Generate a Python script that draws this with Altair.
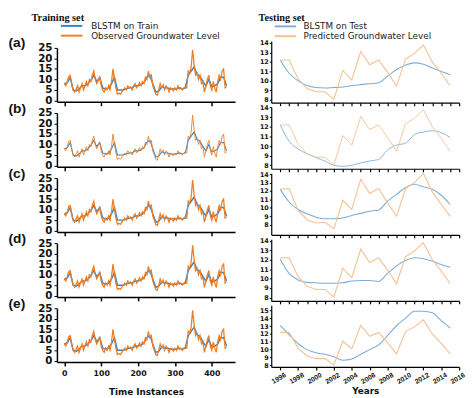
import altair as alt
import pandas as pd

# ---------------- Training set (left column) ----------------
train_names = ["BLSTM on Train", "Observed Groundwater Level"]
obs_step = 4
observed = [8, 7, 9, 11.5, 12, 8, 5, 4, 5.5, 7, 4, 6, 8, 5, 7, 9, 7, 10, 9, 12,
            14, 10, 8, 9.5, 11, 7, 5, 4, 6, 5, 7, 5, 9, 15, 10, 6, 3, 3.5, 3, 4,
            5, 6, 5, 7, 6, 6.5, 5, 7, 8, 6, 7, 8.5, 7, 9, 8, 11, 10, 14, 11, 12,
            7, 5, 3, 2.5, 5, 8, 6, 7.5, 5, 7, 6, 4, 6, 5.5, 4.5, 6, 5, 7, 5.5, 6,
            5, 6, 6.5, 6, 14, 13, 16, 24, 17, 12, 13, 10, 12, 8, 9, 4, 7, 10, 12, 7,
            5, 9, 6, 4, 9, 12, 10, 14, 15, 6, 6.5]
blue_step = 8
blstm_train = [8, 8.5, 11, 5, 4.5, 5.5, 7, 7, 8, 9.5, 12, 9, 11, 6, 5.5, 6, 8, 11, 5, 5,
               5, 5.5, 6, 6, 7, 7, 7.5, 8.5, 11, 12, 8, 4, 4.5, 6.5, 6, 6, 5.5, 5.5, 5.5, 6,
               5.5, 6, 12, 14, 16, 12.5, 11.5, 9, 7, 10, 6.5, 7, 8, 11, 11, 7]
panel_labels = ["(a)", "(b)", "(c)", "(d)", "(e)"]
x_ticks_left = [0, 100, 200, 300, 400]
y_ticks_left = [0, 5, 10, 15, 20, 25]

# ---------------- Testing set (right column) ----------------
test_names = ["BLSTM on Test", "Predicted Groundwater Level"]
years = [1996, 1997, 1998, 1999, 2000, 2001, 2002, 2003, 2004, 2005,
         2006, 2007, 2008, 2009, 2010, 2011, 2012, 2013, 2014, 2015]
predicted = [12.2, 12.2, 10.2, 9.2, 8.85, 8.85, 8.05, 11.1, 10.1, 13.1,
             11.7, 12.2, 10.9, 9.45, 12.3, 12.9, 13.8, 12.0, 10.8, 9.45]
predicted_c = [12.2, 12.3, 9.7, 8.6, 8.2, 8.3, 7.5, 10.9, 9.8, 13.4,
               11.7, 12.3, 10.6, 9.0, 12.3, 13.0, 14.1, 11.9, 10.4, 9.0]
blstm_test = {
    "a": [12.2, 10.8, 10.0, 9.5, 9.3, 9.25, 9.3, 9.35, 9.5, 9.6,
          9.7, 9.8, 10.5, 11.2, 11.65, 11.9, 11.75, 11.35, 11.0, 10.65],
    "b": [12.2, 10.5, 9.7, 9.2, 8.8, 8.45, 8.0, 7.9, 8.0, 8.25,
          8.45, 8.6, 9.6, 10.1, 10.3, 11.2, 11.45, 11.6, 11.4, 10.9],
    "c": [12.2, 10.7, 9.8, 9.3, 8.9, 8.7, 8.7, 8.8, 9.1, 9.35,
          9.6, 9.75, 10.8, 11.6, 12.4, 12.8, 12.5, 12.2, 11.5, 10.4],
    "d": [12.05, 10.55, 9.86, 9.6, 9.55, 9.5, 9.5, 9.55, 9.75, 9.8,
          9.8, 9.7, 10.55, 11.35, 11.9, 12.2, 12.1, 11.85, 11.5, 11.2],
    "e": [13.1, 11.9, 10.75, 10.0, 9.6, 9.4, 9.1, 8.65, 8.8, 9.4,
          10.0, 10.6, 11.8, 13.05, 14.0, 14.9, 14.9, 14.7, 13.7, 12.75],
}
right_domains = {"a": [7.69, 14.2], "b": [7.64, 14.05], "c": [6.8, 14.12],
                 "d": [7.64, 14.16], "e": [7.79, 15.66]}
right_ticks = {"a": list(range(8, 15)), "b": list(range(8, 15)), "c": list(range(8, 15)),
               "d": list(range(8, 15)), "e": list(range(8, 16))}
year_ticks_all = list(range(1996, 2017))
year_ticks_e = list(range(1996, 2017, 2))

LEFT_W, LEFT_H = 182, 55
RIGHT_W, RIGHT_H = 192, 63
HEAD_H = 9
FONT = "DejaVu Sans"

left_color = alt.Color(
    "series:N",
    scale=alt.Scale(domain=train_names, range=["#2f86cf", "#f07d21"]),
    legend=alt.Legend(title=None, orient="none", legendX=10, legendY=-7,
                      symbolType="M-2.75,0H2.75", symbolSize=64, symbolStrokeWidth=2,
                      labelFont=FONT, labelFontSize=9, labelColor="#222",
                      labelOffset=15, rowPadding=0, padding=0),
)
right_color = alt.Color(
    "series:N",
    scale=alt.Scale(domain=test_names, range=["#7eaed8", "#f5c093"]),
    legend=alt.Legend(title=None, orient="none", legendX=10, legendY=-6,
                      symbolType="M-3.14,0H3.14", symbolSize=49, symbolStrokeWidth=2,
                      labelFont=FONT, labelFontSize=9, labelColor="#222",
                      labelOffset=14, rowPadding=-1, padding=0),
)


def spacer(w):
    return alt.Chart(pd.DataFrame({"v": [0]})).mark_point(opacity=0).properties(
        width=w, height=HEAD_H)


def left_panel(i):
    last = i == 4
    sw = 0.9 if i == 1 else 1.3
    obs_df = pd.DataFrame({"t": [k * obs_step for k in range(len(observed))],
                           "v": observed, "series": train_names[1]})
    blue_df = pd.DataFrame({"t": [k * blue_step for k in range(len(blstm_train))],
                            "v": blstm_train, "series": train_names[0]})
    xaxis = dict(values=x_ticks_left, labels=last, tickSize=4, tickWidth=1.5,
                 domainWidth=1.5, labelFont=FONT, labelFontSize=8, labelFontWeight="bold",
                 labelPadding=4, grid=False)
    if last:
        xaxis.update(title="Time Instances", titleFont=FONT, titleFontSize=9,
                     titleFontWeight="bold", titlePadding=10)
    else:
        xaxis.update(title="")
    x = alt.X("t:Q", scale=alt.Scale(domain=[-20, 463], nice=False, zero=False),
              axis=alt.Axis(**xaxis))
    y = alt.Y("v:Q", scale=alt.Scale(domain=[-0.6, 25], nice=False, zero=False),
              axis=alt.Axis(values=y_ticks_left, title=panel_labels[i], titleAngle=0,
                            titleX=-50, titleY=-5, titleAlign="left",
                            titleBaseline="middle", titleFont="Liberation Sans",
                            titleFontSize=14, titleFontWeight="bold", titleColor="#111",
                            labelFont=FONT, labelFontSize=10.5, labelFontWeight="bold",
                            tickSize=3, labelPadding=2, domainWidth=1.5, grid=False))
    blue = alt.Chart(blue_df).mark_line(strokeWidth=sw + 0.2).encode(x=x, y=y, color=left_color)
    obs = alt.Chart(obs_df).mark_line(strokeWidth=sw).encode(x=x, y=y, color=left_color)
    return alt.layer(blue, obs).properties(width=LEFT_W, height=LEFT_H)


def right_panel(i):
    key = "abcde"[i]
    last = i == 4
    sw = 0.9 if i == 1 else 1.1
    pred = predicted_c if key == "c" else predicted
    pred_df = pd.DataFrame({"year": years, "v": pred, "series": test_names[1]})
    blue_df = pd.DataFrame({"year": years, "v": blstm_test[key], "series": test_names[0]})
    xaxis = dict(tickSize=3, tickWidth=1.2, domainWidth=1.2, grid=False)
    if last:
        xaxis.update(values=year_ticks_e, labels=True, format="d", labelAngle=-30,
                     labelAlign="right", labelBaseline="top", labelPadding=1,
                     labelOffset=3, labelFont="Liberation Sans", labelFontSize=7,
                     labelFontWeight="bold",
                     labelOverlap=False, labelBound=False, labelFlush=False,
                     title="Years", titleFont=FONT, titleFontSize=9,
                     titleFontWeight="bold", titlePadding=2)
    else:
        xaxis.update(values=year_ticks_all, labels=False, title="")
    x = alt.X("year:Q", scale=alt.Scale(domain=[1995, 2016], nice=False, zero=False),
              axis=alt.Axis(**xaxis))
    y = alt.Y("v:Q", scale=alt.Scale(domain=right_domains[key], nice=False, zero=False),
              axis=alt.Axis(values=right_ticks[key], title="", labelFont=FONT,
                            labelFontSize=6.5, labelFontWeight="bold", tickSize=2,
                            labelPadding=1, domainWidth=1.2, grid=False))
    blue = alt.Chart(blue_df).mark_line(strokeWidth=sw, interpolate="monotone").encode(
        x=x, y=y, color=right_color)
    orng = alt.Chart(pred_df).mark_line(strokeWidth=sw).encode(x=x, y=y, color=right_color)
    return alt.layer(blue, orng).properties(width=RIGHT_W, height=RIGHT_H)


left_col = alt.VConcatChart(
    vconcat=[spacer(LEFT_W)] + [left_panel(i) for i in range(5)], spacing=11.5,
    bounds="flush",
    title=alt.TitleParams("Training set", anchor="start", frame="group", dx=-26, offset=-2,
                          font="Liberation Serif", fontSize=10.5, fontWeight="bold",
                          color="#111"),
).resolve_scale(x="independent", y="independent")

right_col = alt.VConcatChart(
    vconcat=[spacer(RIGHT_W)] + [right_panel(i) for i in range(5)], spacing=4.5,
    bounds="flush",
    title=alt.TitleParams("Testing set", anchor="start", frame="group", dx=-13, offset=-1,
                          font="Liberation Serif", fontSize=10.5, fontWeight="bold",
                          color="#111"),
).resolve_scale(x="independent", y="independent")

chart = alt.HConcatChart(hconcat=[left_col, right_col], spacing=24, padding=0).resolve_scale(
    color="independent"
).configure_view(stroke=None).configure_axis(domainColor="black", tickColor="black",
                                             labelColor="#111", titleColor="#111")

chart.save("out.html", embed_options={"renderer": "svg", "actions": False})
